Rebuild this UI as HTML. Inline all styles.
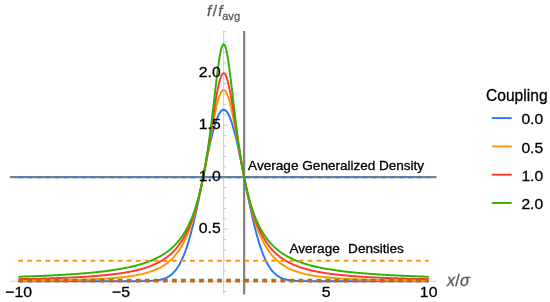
<!DOCTYPE html>
<html><head><meta charset="utf-8"><title>plot</title>
<style>html,body{margin:0;padding:0;background:#fff;}body{width:550px;height:302px;position:relative;overflow:hidden;}</style>
</head><body>
<svg width="550" height="302" viewBox="0 0 550 302" style="position:absolute;left:0;top:0">
<g stroke="#9a9a9a" stroke-width="0.5" fill="none">
<line x1="10" y1="281.2" x2="436.5" y2="281.2"/>
<line x1="223.65" y1="31" x2="223.65" y2="294.5"/>
<line x1="223.65" y1="291.60" x2="226.35" y2="291.60"/>
<line x1="223.65" y1="270.80" x2="226.35" y2="270.80"/>
<line x1="223.65" y1="260.40" x2="226.35" y2="260.40"/>
<line x1="223.65" y1="250.00" x2="226.35" y2="250.00"/>
<line x1="223.65" y1="239.60" x2="226.35" y2="239.60"/>
<line x1="223.65" y1="229.20" x2="228.15" y2="229.20"/>
<line x1="223.65" y1="218.80" x2="226.35" y2="218.80"/>
<line x1="223.65" y1="208.40" x2="226.35" y2="208.40"/>
<line x1="223.65" y1="198.00" x2="226.35" y2="198.00"/>
<line x1="223.65" y1="187.60" x2="226.35" y2="187.60"/>
<line x1="223.65" y1="177.20" x2="228.15" y2="177.20"/>
<line x1="223.65" y1="166.80" x2="226.35" y2="166.80"/>
<line x1="223.65" y1="156.40" x2="226.35" y2="156.40"/>
<line x1="223.65" y1="146.00" x2="226.35" y2="146.00"/>
<line x1="223.65" y1="135.60" x2="226.35" y2="135.60"/>
<line x1="223.65" y1="125.20" x2="228.15" y2="125.20"/>
<line x1="223.65" y1="114.80" x2="226.35" y2="114.80"/>
<line x1="223.65" y1="104.40" x2="226.35" y2="104.40"/>
<line x1="223.65" y1="94.00" x2="226.35" y2="94.00"/>
<line x1="223.65" y1="83.60" x2="226.35" y2="83.60"/>
<line x1="223.65" y1="73.20" x2="228.15" y2="73.20"/>
<line x1="223.65" y1="62.80" x2="226.35" y2="62.80"/>
<line x1="223.65" y1="52.40" x2="226.35" y2="52.40"/>
<line x1="223.65" y1="42.00" x2="226.35" y2="42.00"/>
<line x1="223.65" y1="31.60" x2="226.35" y2="31.60"/>
<line x1="18.65" y1="281.2" x2="18.65" y2="276.7"/>
<line x1="39.15" y1="281.2" x2="39.15" y2="278.5"/>
<line x1="59.65" y1="281.2" x2="59.65" y2="278.5"/>
<line x1="80.15" y1="281.2" x2="80.15" y2="278.5"/>
<line x1="100.65" y1="281.2" x2="100.65" y2="278.5"/>
<line x1="121.15" y1="281.2" x2="121.15" y2="276.7"/>
<line x1="141.65" y1="281.2" x2="141.65" y2="278.5"/>
<line x1="162.15" y1="281.2" x2="162.15" y2="278.5"/>
<line x1="182.65" y1="281.2" x2="182.65" y2="278.5"/>
<line x1="203.15" y1="281.2" x2="203.15" y2="278.5"/>
<line x1="244.15" y1="281.2" x2="244.15" y2="278.5"/>
<line x1="264.65" y1="281.2" x2="264.65" y2="278.5"/>
<line x1="285.15" y1="281.2" x2="285.15" y2="278.5"/>
<line x1="305.65" y1="281.2" x2="305.65" y2="278.5"/>
<line x1="326.15" y1="281.2" x2="326.15" y2="276.7"/>
<line x1="346.65" y1="281.2" x2="346.65" y2="278.5"/>
<line x1="367.15" y1="281.2" x2="367.15" y2="278.5"/>
<line x1="387.65" y1="281.2" x2="387.65" y2="278.5"/>
<line x1="408.15" y1="281.2" x2="408.15" y2="278.5"/>
<line x1="428.65" y1="281.2" x2="428.65" y2="276.7"/>
</g>
<line x1="10" y1="177.20" x2="436.5" y2="177.20" stroke="#808080" stroke-width="2.2"/>
<line x1="244.15" y1="31" x2="244.15" y2="294.5" stroke="#808080" stroke-width="2.2"/>
<polyline points="18.65,281.20 19.68,281.20 20.70,281.20 21.73,281.20 22.75,281.20 23.78,281.20 24.80,281.20 25.82,281.20 26.85,281.20 27.88,281.20 28.90,281.20 29.93,281.20 30.95,281.20 31.98,281.20 33.00,281.20 34.03,281.20 35.05,281.20 36.07,281.20 37.10,281.20 38.12,281.20 39.15,281.20 40.18,281.20 41.20,281.20 42.23,281.20 43.25,281.20 44.28,281.20 45.30,281.20 46.32,281.20 47.35,281.20 48.38,281.20 49.40,281.20 50.43,281.20 51.45,281.20 52.48,281.20 53.50,281.20 54.53,281.20 55.55,281.20 56.57,281.20 57.60,281.20 58.62,281.20 59.65,281.20 60.68,281.20 61.70,281.20 62.73,281.20 63.75,281.20 64.78,281.20 65.80,281.20 66.82,281.20 67.85,281.20 68.88,281.20 69.90,281.20 70.93,281.20 71.95,281.20 72.98,281.20 74.00,281.20 75.03,281.20 76.05,281.20 77.07,281.20 78.10,281.20 79.12,281.20 80.15,281.20 81.18,281.20 82.20,281.20 83.23,281.20 84.25,281.20 85.28,281.20 86.30,281.20 87.32,281.20 88.35,281.20 89.38,281.20 90.40,281.20 91.43,281.20 92.45,281.20 93.48,281.20 94.50,281.20 95.53,281.20 96.55,281.20 97.58,281.20 98.60,281.20 99.63,281.20 100.65,281.20 101.67,281.20 102.70,281.20 103.73,281.20 104.75,281.20 105.78,281.20 106.80,281.20 107.83,281.20 108.85,281.20 109.88,281.20 110.90,281.20 111.92,281.20 112.95,281.20 113.98,281.20 115.00,281.20 116.03,281.20 117.05,281.20 118.08,281.20 119.10,281.20 120.13,281.20 121.15,281.20 122.18,281.20 123.20,281.20 124.23,281.20 125.25,281.20 126.28,281.20 127.30,281.20 128.33,281.20 129.35,281.20 130.38,281.19 131.40,281.19 132.43,281.19 133.45,281.19 134.48,281.19 135.50,281.18 136.53,281.18 137.55,281.17 138.58,281.17 139.60,281.16 140.62,281.15 141.65,281.14 142.68,281.13 143.70,281.11 144.73,281.10 145.75,281.07 146.78,281.05 147.80,281.02 148.83,280.98 149.85,280.94 150.88,280.89 151.90,280.82 152.93,280.75 153.95,280.67 154.98,280.57 156.00,280.46 157.03,280.33 158.05,280.18 159.08,280.00 160.10,279.80 161.12,279.56 162.15,279.30 163.18,278.99 164.20,278.64 165.23,278.25 166.25,277.80 167.28,277.29 168.30,276.72 169.33,276.08 170.35,275.36 171.38,274.56 172.40,273.67 173.43,272.67 174.45,271.57 175.48,270.36 176.50,269.02 177.53,267.56 178.55,265.95 179.58,264.20 180.60,262.30 181.62,260.23 182.65,257.99 183.68,255.59 184.70,253.00 185.73,250.23 186.75,247.27 187.78,244.12 188.80,240.78 189.82,237.25 190.85,233.53 191.88,229.62 192.90,225.53 193.93,221.27 194.95,216.85 195.98,212.27 197.00,207.55 198.03,202.70 199.05,197.74 200.07,192.69 201.10,187.57 202.13,182.40 203.15,177.20 204.18,172.00 205.20,166.84 206.23,161.72 207.25,156.69 208.28,151.77 209.30,146.99 210.32,142.39 211.35,137.98 212.38,133.80 213.40,129.88 214.43,126.24 215.45,122.92 216.48,119.92 217.50,117.28 218.53,115.01 219.55,113.13 220.58,111.65 221.60,110.59 222.63,109.95 223.65,109.73 224.68,109.95 225.70,110.59 226.73,111.65 227.75,113.13 228.78,115.01 229.80,117.28 230.83,119.92 231.85,122.92 232.88,126.24 233.90,129.88 234.93,133.80 235.95,137.98 236.98,142.39 238.00,146.99 239.03,151.77 240.05,156.69 241.08,161.72 242.10,166.84 243.13,172.00 244.15,177.20 245.18,182.40 246.20,187.57 247.23,192.69 248.25,197.74 249.28,202.70 250.30,207.55 251.33,212.27 252.35,216.85 253.38,221.27 254.40,225.53 255.43,229.62 256.45,233.53 257.48,237.25 258.50,240.78 259.52,244.12 260.55,247.27 261.58,250.23 262.60,253.00 263.62,255.59 264.65,257.99 265.68,260.23 266.70,262.30 267.73,264.20 268.75,265.95 269.77,267.56 270.80,269.02 271.83,270.36 272.85,271.57 273.88,272.67 274.90,273.67 275.93,274.56 276.95,275.36 277.98,276.08 279.00,276.72 280.02,277.29 281.05,277.80 282.08,278.25 283.10,278.64 284.12,278.99 285.15,279.30 286.18,279.56 287.20,279.80 288.23,280.00 289.25,280.18 290.27,280.33 291.30,280.46 292.33,280.57 293.35,280.67 294.38,280.75 295.40,280.82 296.43,280.89 297.45,280.94 298.48,280.98 299.50,281.02 300.52,281.05 301.55,281.07 302.58,281.10 303.60,281.11 304.62,281.13 305.65,281.14 306.68,281.15 307.70,281.16 308.73,281.17 309.75,281.17 310.77,281.18 311.80,281.18 312.83,281.19 313.85,281.19 314.88,281.19 315.90,281.19 316.93,281.19 317.95,281.20 318.98,281.20 320.00,281.20 321.02,281.20 322.05,281.20 323.08,281.20 324.10,281.20 325.12,281.20 326.15,281.20 327.18,281.20 328.20,281.20 329.23,281.20 330.25,281.20 331.27,281.20 332.30,281.20 333.33,281.20 334.35,281.20 335.38,281.20 336.40,281.20 337.43,281.20 338.45,281.20 339.48,281.20 340.50,281.20 341.52,281.20 342.55,281.20 343.58,281.20 344.60,281.20 345.62,281.20 346.65,281.20 347.68,281.20 348.70,281.20 349.73,281.20 350.75,281.20 351.77,281.20 352.80,281.20 353.83,281.20 354.85,281.20 355.88,281.20 356.90,281.20 357.93,281.20 358.95,281.20 359.98,281.20 361.00,281.20 362.02,281.20 363.05,281.20 364.08,281.20 365.10,281.20 366.12,281.20 367.15,281.20 368.18,281.20 369.20,281.20 370.23,281.20 371.25,281.20 372.27,281.20 373.30,281.20 374.33,281.20 375.35,281.20 376.38,281.20 377.40,281.20 378.43,281.20 379.45,281.20 380.48,281.20 381.50,281.20 382.52,281.20 383.55,281.20 384.58,281.20 385.60,281.20 386.62,281.20 387.65,281.20 388.68,281.20 389.70,281.20 390.73,281.20 391.75,281.20 392.77,281.20 393.80,281.20 394.83,281.20 395.85,281.20 396.88,281.20 397.90,281.20 398.93,281.20 399.95,281.20 400.98,281.20 402.00,281.20 403.02,281.20 404.05,281.20 405.08,281.20 406.10,281.20 407.12,281.20 408.15,281.20 409.18,281.20 410.20,281.20 411.23,281.20 412.25,281.20 413.27,281.20 414.30,281.20 415.33,281.20 416.35,281.20 417.38,281.20 418.40,281.20 419.43,281.20 420.45,281.20 421.48,281.20 422.50,281.20 423.52,281.20 424.55,281.20 425.58,281.20 426.60,281.20 427.63,281.20 428.65,281.20" fill="none" stroke="#2f74f2" stroke-width="1.95" stroke-linejoin="round"/>
<polyline points="18.65,280.68 19.68,280.67 20.70,280.66 21.73,280.65 22.75,280.64 23.78,280.63 24.80,280.63 25.82,280.62 26.85,280.61 27.88,280.60 28.90,280.59 29.93,280.58 30.95,280.57 31.98,280.56 33.00,280.55 34.03,280.54 35.05,280.53 36.07,280.52 37.10,280.51 38.12,280.50 39.15,280.49 40.18,280.47 41.20,280.46 42.23,280.45 43.25,280.44 44.28,280.42 45.30,280.41 46.32,280.40 47.35,280.38 48.38,280.37 49.40,280.36 50.43,280.34 51.45,280.33 52.48,280.31 53.50,280.29 54.53,280.28 55.55,280.26 56.57,280.25 57.60,280.23 58.62,280.21 59.65,280.19 60.68,280.17 61.70,280.15 62.73,280.14 63.75,280.12 64.78,280.09 65.80,280.07 66.82,280.05 67.85,280.03 68.88,280.01 69.90,279.98 70.93,279.96 71.95,279.94 72.98,279.91 74.00,279.89 75.03,279.86 76.05,279.83 77.07,279.80 78.10,279.78 79.12,279.75 80.15,279.72 81.18,279.69 82.20,279.65 83.23,279.62 84.25,279.59 85.28,279.55 86.30,279.52 87.32,279.48 88.35,279.44 89.38,279.40 90.40,279.36 91.43,279.32 92.45,279.28 93.48,279.24 94.50,279.19 95.53,279.15 96.55,279.10 97.58,279.05 98.60,279.00 99.63,278.95 100.65,278.89 101.67,278.84 102.70,278.78 103.73,278.72 104.75,278.66 105.78,278.60 106.80,278.53 107.83,278.46 108.85,278.40 109.88,278.32 110.90,278.25 111.92,278.17 112.95,278.09 113.98,278.01 115.00,277.93 116.03,277.84 117.05,277.75 118.08,277.65 119.10,277.55 120.13,277.45 121.15,277.35 122.18,277.24 123.20,277.13 124.23,277.01 125.25,276.89 126.28,276.76 127.30,276.63 128.33,276.49 129.35,276.35 130.38,276.20 131.40,276.05 132.43,275.89 133.45,275.73 134.48,275.55 135.50,275.37 136.53,275.19 137.55,274.99 138.58,274.79 139.60,274.58 140.62,274.35 141.65,274.12 142.68,273.88 143.70,273.63 144.73,273.37 145.75,273.09 146.78,272.81 147.80,272.50 148.83,272.19 149.85,271.86 150.88,271.52 151.90,271.15 152.93,270.78 153.95,270.38 154.98,269.96 156.00,269.52 157.03,269.06 158.05,268.58 159.08,268.07 160.10,267.54 161.12,266.98 162.15,266.39 163.18,265.77 164.20,265.11 165.23,264.42 166.25,263.69 167.28,262.92 168.30,262.12 169.33,261.26 170.35,260.36 171.38,259.40 172.40,258.39 173.43,257.33 174.45,256.20 175.48,255.01 176.50,253.74 177.53,252.41 178.55,250.99 179.58,249.49 180.60,247.90 181.62,246.22 182.65,244.43 183.68,242.54 184.70,240.53 185.73,238.40 186.75,236.15 187.78,233.76 188.80,231.23 189.82,228.54 190.85,225.70 191.88,222.70 192.90,219.52 193.93,216.17 194.95,212.62 195.98,208.89 197.00,204.96 198.03,200.83 199.05,196.50 200.07,191.97 201.10,187.24 202.13,182.31 203.15,177.20 204.18,171.92 205.20,166.48 206.23,160.90 207.25,155.22 208.28,149.46 209.30,143.66 210.32,137.88 211.35,132.14 212.38,126.53 213.40,121.08 214.43,115.87 215.45,110.97 216.48,106.44 217.50,102.35 218.53,98.76 219.55,95.73 220.58,93.32 221.60,91.56 222.63,90.50 223.65,90.14 224.68,90.50 225.70,91.56 226.73,93.32 227.75,95.73 228.78,98.76 229.80,102.35 230.83,106.44 231.85,110.97 232.88,115.87 233.90,121.08 234.93,126.53 235.95,132.14 236.98,137.88 238.00,143.66 239.03,149.46 240.05,155.22 241.08,160.90 242.10,166.48 243.13,171.92 244.15,177.20 245.18,182.31 246.20,187.24 247.23,191.97 248.25,196.50 249.28,200.83 250.30,204.96 251.33,208.89 252.35,212.62 253.38,216.17 254.40,219.52 255.43,222.70 256.45,225.70 257.48,228.54 258.50,231.23 259.52,233.76 260.55,236.15 261.58,238.40 262.60,240.53 263.62,242.54 264.65,244.43 265.68,246.22 266.70,247.90 267.73,249.49 268.75,250.99 269.77,252.41 270.80,253.74 271.83,255.01 272.85,256.20 273.88,257.33 274.90,258.39 275.93,259.40 276.95,260.36 277.98,261.26 279.00,262.12 280.02,262.92 281.05,263.69 282.08,264.42 283.10,265.11 284.12,265.77 285.15,266.39 286.18,266.98 287.20,267.54 288.23,268.07 289.25,268.58 290.27,269.06 291.30,269.52 292.33,269.96 293.35,270.38 294.38,270.78 295.40,271.15 296.43,271.52 297.45,271.86 298.48,272.19 299.50,272.50 300.52,272.81 301.55,273.09 302.58,273.37 303.60,273.63 304.62,273.88 305.65,274.12 306.68,274.35 307.70,274.58 308.73,274.79 309.75,274.99 310.77,275.19 311.80,275.37 312.83,275.55 313.85,275.73 314.88,275.89 315.90,276.05 316.93,276.20 317.95,276.35 318.98,276.49 320.00,276.63 321.02,276.76 322.05,276.89 323.08,277.01 324.10,277.13 325.12,277.24 326.15,277.35 327.18,277.45 328.20,277.55 329.23,277.65 330.25,277.75 331.27,277.84 332.30,277.93 333.33,278.01 334.35,278.09 335.38,278.17 336.40,278.25 337.43,278.32 338.45,278.40 339.48,278.46 340.50,278.53 341.52,278.60 342.55,278.66 343.58,278.72 344.60,278.78 345.62,278.84 346.65,278.89 347.68,278.95 348.70,279.00 349.73,279.05 350.75,279.10 351.77,279.15 352.80,279.19 353.83,279.24 354.85,279.28 355.88,279.32 356.90,279.36 357.93,279.40 358.95,279.44 359.98,279.48 361.00,279.52 362.02,279.55 363.05,279.59 364.08,279.62 365.10,279.65 366.12,279.69 367.15,279.72 368.18,279.75 369.20,279.78 370.23,279.80 371.25,279.83 372.27,279.86 373.30,279.89 374.33,279.91 375.35,279.94 376.38,279.96 377.40,279.98 378.43,280.01 379.45,280.03 380.48,280.05 381.50,280.07 382.52,280.09 383.55,280.12 384.58,280.14 385.60,280.15 386.62,280.17 387.65,280.19 388.68,280.21 389.70,280.23 390.73,280.25 391.75,280.26 392.77,280.28 393.80,280.29 394.83,280.31 395.85,280.33 396.88,280.34 397.90,280.36 398.93,280.37 399.95,280.38 400.98,280.40 402.00,280.41 403.02,280.42 404.05,280.44 405.08,280.45 406.10,280.46 407.12,280.47 408.15,280.49 409.18,280.50 410.20,280.51 411.23,280.52 412.25,280.53 413.27,280.54 414.30,280.55 415.33,280.56 416.35,280.57 417.38,280.58 418.40,280.59 419.43,280.60 420.45,280.61 421.48,280.62 422.50,280.63 423.52,280.63 424.55,280.64 425.58,280.65 426.60,280.66 427.63,280.67 428.65,280.68" fill="none" stroke="#ff9500" stroke-width="1.95" stroke-linejoin="round"/>
<polyline points="18.65,279.14 19.68,279.12 20.70,279.10 21.73,279.08 22.75,279.06 23.78,279.03 24.80,279.01 25.82,278.99 26.85,278.97 27.88,278.94 28.90,278.92 29.93,278.90 30.95,278.87 31.98,278.85 33.00,278.82 34.03,278.80 35.05,278.77 36.07,278.74 37.10,278.72 38.12,278.69 39.15,278.66 40.18,278.64 41.20,278.61 42.23,278.58 43.25,278.55 44.28,278.52 45.30,278.49 46.32,278.46 47.35,278.43 48.38,278.39 49.40,278.36 50.43,278.33 51.45,278.29 52.48,278.26 53.50,278.22 54.53,278.19 55.55,278.15 56.57,278.11 57.60,278.08 58.62,278.04 59.65,278.00 60.68,277.96 61.70,277.92 62.73,277.88 63.75,277.84 64.78,277.79 65.80,277.75 66.82,277.71 67.85,277.66 68.88,277.61 69.90,277.57 70.93,277.52 71.95,277.47 72.98,277.42 74.00,277.37 75.03,277.32 76.05,277.26 77.07,277.21 78.10,277.15 79.12,277.10 80.15,277.04 81.18,276.98 82.20,276.92 83.23,276.86 84.25,276.80 85.28,276.73 86.30,276.67 87.32,276.60 88.35,276.53 89.38,276.46 90.40,276.39 91.43,276.32 92.45,276.24 93.48,276.17 94.50,276.09 95.53,276.01 96.55,275.93 97.58,275.84 98.60,275.76 99.63,275.67 100.65,275.58 101.67,275.49 102.70,275.39 103.73,275.29 104.75,275.20 105.78,275.09 106.80,274.99 107.83,274.88 108.85,274.77 109.88,274.66 110.90,274.54 111.92,274.43 112.95,274.30 113.98,274.18 115.00,274.05 116.03,273.92 117.05,273.78 118.08,273.64 119.10,273.50 120.13,273.35 121.15,273.20 122.18,273.04 123.20,272.88 124.23,272.72 125.25,272.55 126.28,272.37 127.30,272.19 128.33,272.01 129.35,271.81 130.38,271.62 131.40,271.41 132.43,271.20 133.45,270.98 134.48,270.76 135.50,270.53 136.53,270.29 137.55,270.04 138.58,269.79 139.60,269.52 140.62,269.25 141.65,268.96 142.68,268.67 143.70,268.37 144.73,268.05 145.75,267.73 146.78,267.39 147.80,267.04 148.83,266.68 149.85,266.30 150.88,265.91 151.90,265.50 152.93,265.08 153.95,264.64 154.98,264.18 156.00,263.71 157.03,263.21 158.05,262.69 159.08,262.16 160.10,261.60 161.12,261.01 162.15,260.40 163.18,259.76 164.20,259.10 165.23,258.40 166.25,257.67 167.28,256.91 168.30,256.11 169.33,255.27 170.35,254.40 171.38,253.48 172.40,252.51 173.43,251.50 174.45,250.43 175.48,249.31 176.50,248.13 177.53,246.89 178.55,245.58 179.58,244.21 180.60,242.75 181.62,241.22 182.65,239.60 183.68,237.89 184.70,236.08 185.73,234.17 186.75,232.14 187.78,230.00 188.80,227.73 189.82,225.32 190.85,222.77 191.88,220.07 192.90,217.20 193.93,214.16 194.95,210.93 195.98,207.51 197.00,203.88 198.03,200.03 199.05,195.95 200.07,191.64 201.10,187.08 202.13,182.27 203.15,177.20 204.18,171.87 205.20,166.28 206.23,160.45 207.25,154.37 208.28,148.08 209.30,141.60 210.32,134.98 211.35,128.26 212.38,121.51 213.40,114.80 214.43,108.23 215.45,101.89 216.48,95.90 217.50,90.37 218.53,85.44 219.55,81.20 220.58,77.78 221.60,75.26 222.63,73.72 223.65,73.20 224.68,73.72 225.70,75.26 226.73,77.78 227.75,81.20 228.78,85.44 229.80,90.37 230.83,95.90 231.85,101.89 232.88,108.23 233.90,114.80 234.93,121.51 235.95,128.26 236.98,134.98 238.00,141.60 239.03,148.08 240.05,154.37 241.08,160.45 242.10,166.28 243.13,171.87 244.15,177.20 245.18,182.27 246.20,187.08 247.23,191.64 248.25,195.95 249.28,200.03 250.30,203.88 251.33,207.51 252.35,210.93 253.38,214.16 254.40,217.20 255.43,220.07 256.45,222.77 257.48,225.32 258.50,227.73 259.52,230.00 260.55,232.14 261.58,234.17 262.60,236.08 263.62,237.89 264.65,239.60 265.68,241.22 266.70,242.75 267.73,244.21 268.75,245.58 269.77,246.89 270.80,248.13 271.83,249.31 272.85,250.43 273.88,251.50 274.90,252.51 275.93,253.48 276.95,254.40 277.98,255.27 279.00,256.11 280.02,256.91 281.05,257.67 282.08,258.40 283.10,259.10 284.12,259.76 285.15,260.40 286.18,261.01 287.20,261.60 288.23,262.16 289.25,262.69 290.27,263.21 291.30,263.71 292.33,264.18 293.35,264.64 294.38,265.08 295.40,265.50 296.43,265.91 297.45,266.30 298.48,266.68 299.50,267.04 300.52,267.39 301.55,267.73 302.58,268.05 303.60,268.37 304.62,268.67 305.65,268.96 306.68,269.25 307.70,269.52 308.73,269.79 309.75,270.04 310.77,270.29 311.80,270.53 312.83,270.76 313.85,270.98 314.88,271.20 315.90,271.41 316.93,271.62 317.95,271.81 318.98,272.01 320.00,272.19 321.02,272.37 322.05,272.55 323.08,272.72 324.10,272.88 325.12,273.04 326.15,273.20 327.18,273.35 328.20,273.50 329.23,273.64 330.25,273.78 331.27,273.92 332.30,274.05 333.33,274.18 334.35,274.30 335.38,274.43 336.40,274.54 337.43,274.66 338.45,274.77 339.48,274.88 340.50,274.99 341.52,275.09 342.55,275.20 343.58,275.29 344.60,275.39 345.62,275.49 346.65,275.58 347.68,275.67 348.70,275.76 349.73,275.84 350.75,275.93 351.77,276.01 352.80,276.09 353.83,276.17 354.85,276.24 355.88,276.32 356.90,276.39 357.93,276.46 358.95,276.53 359.98,276.60 361.00,276.67 362.02,276.73 363.05,276.80 364.08,276.86 365.10,276.92 366.12,276.98 367.15,277.04 368.18,277.10 369.20,277.15 370.23,277.21 371.25,277.26 372.27,277.32 373.30,277.37 374.33,277.42 375.35,277.47 376.38,277.52 377.40,277.57 378.43,277.61 379.45,277.66 380.48,277.71 381.50,277.75 382.52,277.79 383.55,277.84 384.58,277.88 385.60,277.92 386.62,277.96 387.65,278.00 388.68,278.04 389.70,278.08 390.73,278.11 391.75,278.15 392.77,278.19 393.80,278.22 394.83,278.26 395.85,278.29 396.88,278.33 397.90,278.36 398.93,278.39 399.95,278.43 400.98,278.46 402.00,278.49 403.02,278.52 404.05,278.55 405.08,278.58 406.10,278.61 407.12,278.64 408.15,278.66 409.18,278.69 410.20,278.72 411.23,278.74 412.25,278.77 413.27,278.80 414.30,278.82 415.33,278.85 416.35,278.87 417.38,278.90 418.40,278.92 419.43,278.94 420.45,278.97 421.48,278.99 422.50,279.01 423.52,279.03 424.55,279.06 425.58,279.08 426.60,279.10 427.63,279.12 428.65,279.14" fill="none" stroke="#ff3b30" stroke-width="1.95" stroke-linejoin="round"/>
<polyline points="18.65,276.76 19.68,276.73 20.70,276.69 21.73,276.66 22.75,276.62 23.78,276.59 24.80,276.55 25.82,276.52 26.85,276.48 27.88,276.44 28.90,276.41 29.93,276.37 30.95,276.33 31.98,276.29 33.00,276.25 34.03,276.21 35.05,276.17 36.07,276.13 37.10,276.09 38.12,276.05 39.15,276.00 40.18,275.96 41.20,275.92 42.23,275.87 43.25,275.83 44.28,275.78 45.30,275.73 46.32,275.69 47.35,275.64 48.38,275.59 49.40,275.54 50.43,275.49 51.45,275.44 52.48,275.39 53.50,275.34 54.53,275.28 55.55,275.23 56.57,275.18 57.60,275.12 58.62,275.06 59.65,275.01 60.68,274.95 61.70,274.89 62.73,274.83 63.75,274.77 64.78,274.71 65.80,274.64 66.82,274.58 67.85,274.52 68.88,274.45 69.90,274.38 70.93,274.31 71.95,274.25 72.98,274.17 74.00,274.10 75.03,274.03 76.05,273.96 77.07,273.88 78.10,273.80 79.12,273.73 80.15,273.65 81.18,273.57 82.20,273.48 83.23,273.40 84.25,273.31 85.28,273.23 86.30,273.14 87.32,273.05 88.35,272.96 89.38,272.86 90.40,272.77 91.43,272.67 92.45,272.57 93.48,272.47 94.50,272.37 95.53,272.26 96.55,272.16 97.58,272.05 98.60,271.94 99.63,271.82 100.65,271.71 101.67,271.59 102.70,271.47 103.73,271.35 104.75,271.22 105.78,271.09 106.80,270.96 107.83,270.83 108.85,270.69 109.88,270.55 110.90,270.41 111.92,270.26 112.95,270.11 113.98,269.96 115.00,269.80 116.03,269.64 117.05,269.47 118.08,269.31 119.10,269.13 120.13,268.96 121.15,268.78 122.18,268.59 123.20,268.40 124.23,268.21 125.25,268.01 126.28,267.81 127.30,267.60 128.33,267.38 129.35,267.16 130.38,266.93 131.40,266.70 132.43,266.46 133.45,266.22 134.48,265.96 135.50,265.70 136.53,265.44 137.55,265.16 138.58,264.88 139.60,264.59 140.62,264.29 141.65,263.98 142.68,263.66 143.70,263.34 144.73,263.00 145.75,262.65 146.78,262.29 147.80,261.92 148.83,261.54 149.85,261.14 150.88,260.73 151.90,260.31 152.93,259.87 153.95,259.42 154.98,258.95 156.00,258.46 157.03,257.96 158.05,257.44 159.08,256.90 160.10,256.34 161.12,255.76 162.15,255.15 163.18,254.52 164.20,253.87 165.23,253.19 166.25,252.48 167.28,251.74 168.30,250.97 169.33,250.17 170.35,249.33 171.38,248.45 172.40,247.54 173.43,246.58 174.45,245.58 175.48,244.53 176.50,243.43 177.53,242.28 178.55,241.07 179.58,239.80 180.60,238.46 181.62,237.06 182.65,235.58 183.68,234.01 184.70,232.37 185.73,230.63 186.75,228.79 187.78,226.84 188.80,224.78 189.82,222.59 190.85,220.27 191.88,217.81 192.90,215.19 193.93,212.40 194.95,209.44 195.98,206.27 197.00,202.90 198.03,199.30 199.05,195.45 200.07,191.33 201.10,186.93 202.13,182.23 203.15,177.20 204.18,171.82 205.20,166.08 206.23,159.95 207.25,153.43 208.28,146.50 209.30,139.17 210.32,131.45 211.35,123.36 212.38,114.95 213.40,106.29 214.43,97.50 215.45,88.69 216.48,80.06 217.50,71.81 218.53,64.17 219.55,57.43 220.58,51.83 221.60,47.63 222.63,45.02 223.65,44.13 224.68,45.02 225.70,47.63 226.73,51.83 227.75,57.43 228.78,64.17 229.80,71.81 230.83,80.06 231.85,88.69 232.88,97.50 233.90,106.29 234.93,114.95 235.95,123.36 236.98,131.45 238.00,139.17 239.03,146.50 240.05,153.43 241.08,159.95 242.10,166.08 243.13,171.82 244.15,177.20 245.18,182.23 246.20,186.93 247.23,191.33 248.25,195.45 249.28,199.30 250.30,202.90 251.33,206.27 252.35,209.44 253.38,212.40 254.40,215.19 255.43,217.81 256.45,220.27 257.48,222.59 258.50,224.78 259.52,226.84 260.55,228.79 261.58,230.63 262.60,232.37 263.62,234.01 264.65,235.58 265.68,237.06 266.70,238.46 267.73,239.80 268.75,241.07 269.77,242.28 270.80,243.43 271.83,244.53 272.85,245.58 273.88,246.58 274.90,247.54 275.93,248.45 276.95,249.33 277.98,250.17 279.00,250.97 280.02,251.74 281.05,252.48 282.08,253.19 283.10,253.87 284.12,254.52 285.15,255.15 286.18,255.76 287.20,256.34 288.23,256.90 289.25,257.44 290.27,257.96 291.30,258.46 292.33,258.95 293.35,259.42 294.38,259.87 295.40,260.31 296.43,260.73 297.45,261.14 298.48,261.54 299.50,261.92 300.52,262.29 301.55,262.65 302.58,263.00 303.60,263.34 304.62,263.66 305.65,263.98 306.68,264.29 307.70,264.59 308.73,264.88 309.75,265.16 310.77,265.44 311.80,265.70 312.83,265.96 313.85,266.22 314.88,266.46 315.90,266.70 316.93,266.93 317.95,267.16 318.98,267.38 320.00,267.60 321.02,267.81 322.05,268.01 323.08,268.21 324.10,268.40 325.12,268.59 326.15,268.78 327.18,268.96 328.20,269.13 329.23,269.31 330.25,269.47 331.27,269.64 332.30,269.80 333.33,269.96 334.35,270.11 335.38,270.26 336.40,270.41 337.43,270.55 338.45,270.69 339.48,270.83 340.50,270.96 341.52,271.09 342.55,271.22 343.58,271.35 344.60,271.47 345.62,271.59 346.65,271.71 347.68,271.82 348.70,271.94 349.73,272.05 350.75,272.16 351.77,272.26 352.80,272.37 353.83,272.47 354.85,272.57 355.88,272.67 356.90,272.77 357.93,272.86 358.95,272.96 359.98,273.05 361.00,273.14 362.02,273.23 363.05,273.31 364.08,273.40 365.10,273.48 366.12,273.57 367.15,273.65 368.18,273.73 369.20,273.80 370.23,273.88 371.25,273.96 372.27,274.03 373.30,274.10 374.33,274.17 375.35,274.25 376.38,274.31 377.40,274.38 378.43,274.45 379.45,274.52 380.48,274.58 381.50,274.64 382.52,274.71 383.55,274.77 384.58,274.83 385.60,274.89 386.62,274.95 387.65,275.01 388.68,275.06 389.70,275.12 390.73,275.18 391.75,275.23 392.77,275.28 393.80,275.34 394.83,275.39 395.85,275.44 396.88,275.49 397.90,275.54 398.93,275.59 399.95,275.64 400.98,275.69 402.00,275.73 403.02,275.78 404.05,275.83 405.08,275.87 406.10,275.92 407.12,275.96 408.15,276.00 409.18,276.05 410.20,276.09 411.23,276.13 412.25,276.17 413.27,276.21 414.30,276.25 415.33,276.29 416.35,276.33 417.38,276.37 418.40,276.41 419.43,276.44 420.45,276.48 421.48,276.52 422.50,276.55 423.52,276.59 424.55,276.62 425.58,276.66 426.60,276.69 427.63,276.73 428.65,276.76" fill="none" stroke="#34b000" stroke-width="1.95" stroke-linejoin="round"/>
<line x1="18.5" y1="177.20" x2="428.6" y2="177.20" stroke="#3680e4" stroke-width="2.1" stroke-dasharray="4.6 4.46"/>
<line x1="18.3" y1="260.71" x2="428.6" y2="260.71" stroke="#ff9500" stroke-width="2.1" stroke-dasharray="4.7 4.34"/>
<line x1="18.3" y1="281.20" x2="428.6" y2="281.20" stroke="#f0501e" stroke-width="2.6" stroke-dasharray="4.7 4.34"/>
<line x1="18.3" y1="279.43" x2="428.6" y2="279.43" stroke="#34b000" stroke-width="1.6" stroke-dasharray="4.7 4.34"/>
<line x1="491.8" y1="118.1" x2="511.7" y2="118.1" stroke="#2f74f2" stroke-width="1.9"/>
<line x1="491.8" y1="146.4" x2="511.7" y2="146.4" stroke="#ff9500" stroke-width="1.9"/>
<line x1="491.8" y1="174.7" x2="511.7" y2="174.7" stroke="#ff3b30" stroke-width="1.9"/>
<line x1="491.8" y1="203.0" x2="511.7" y2="203.0" stroke="#34b000" stroke-width="1.9"/>
<text transform="translate(220.80,233.10) scale(1.06,1)" font-size="14.9" text-anchor="end" fill="#000" stroke="#000" stroke-width="0.3" font-family="Liberation Sans, Arial, Helvetica, sans-serif" >0.5</text>
<text transform="translate(220.80,181.10) scale(1.06,1)" font-size="14.9" text-anchor="end" fill="#000" stroke="#000" stroke-width="0.3" font-family="Liberation Sans, Arial, Helvetica, sans-serif" >1.0</text>
<text transform="translate(220.80,129.10) scale(1.06,1)" font-size="14.9" text-anchor="end" fill="#000" stroke="#000" stroke-width="0.3" font-family="Liberation Sans, Arial, Helvetica, sans-serif" >1.5</text>
<text transform="translate(220.80,77.10) scale(1.06,1)" font-size="14.9" text-anchor="end" fill="#000" stroke="#000" stroke-width="0.3" font-family="Liberation Sans, Arial, Helvetica, sans-serif" >2.0</text>
<text transform="translate(18.55,296.80) scale(1.06,1)" font-size="14.9" text-anchor="middle" fill="#000" stroke="#000" stroke-width="0.3" font-family="Liberation Sans, Arial, Helvetica, sans-serif" >−10</text>
<text transform="translate(121.05,296.80) scale(1.06,1)" font-size="14.9" text-anchor="middle" fill="#000" stroke="#000" stroke-width="0.3" font-family="Liberation Sans, Arial, Helvetica, sans-serif" >−5</text>
<text transform="translate(326.15,296.80) scale(1.06,1)" font-size="14.9" text-anchor="middle" fill="#000" stroke="#000" stroke-width="0.3" font-family="Liberation Sans, Arial, Helvetica, sans-serif" >5</text>
<text transform="translate(428.65,296.80) scale(1.06,1)" font-size="14.9" text-anchor="middle" fill="#000" stroke="#000" stroke-width="0.3" font-family="Liberation Sans, Arial, Helvetica, sans-serif" >10</text>
<text transform="translate(248.10,170.00) scale(1.022,1)" font-size="13.3" text-anchor="start" fill="#000" stroke="#000" stroke-width="0.3" font-family="Liberation Sans, Arial, Helvetica, sans-serif" >Average</text>
<text transform="translate(302.30,170.00) scale(1.02,1)" font-size="13.3" text-anchor="start" fill="#000" stroke="#000" stroke-width="0.3" font-family="Liberation Sans, Arial, Helvetica, sans-serif" >Generalized</text>
<text transform="translate(378.90,170.00) scale(1.02,1)" font-size="13.3" text-anchor="start" fill="#000" stroke="#000" stroke-width="0.3" font-family="Liberation Sans, Arial, Helvetica, sans-serif" >Density</text>
<text transform="translate(289.40,253.20) scale(1.022,1)" font-size="13.3" text-anchor="start" fill="#000" stroke="#000" stroke-width="0.3" font-family="Liberation Sans, Arial, Helvetica, sans-serif" >Average</text>
<text transform="translate(348.10,253.20) scale(1.02,1)" font-size="13.3" text-anchor="start" fill="#000" stroke="#000" stroke-width="0.3" font-family="Liberation Sans, Arial, Helvetica, sans-serif" >Densities</text>
<text transform="translate(486.00,100.80) scale(1.0,1)" font-size="15.6" text-anchor="start" fill="#000" stroke="#000" stroke-width="0.3" font-family="Liberation Sans, Arial, Helvetica, sans-serif" >Coupling</text>
<text transform="translate(521.40,124.40) scale(1.045,1)" font-size="15.0" text-anchor="start" fill="#000" stroke="#000" stroke-width="0.3" font-family="Liberation Sans, Arial, Helvetica, sans-serif" >0.0</text>
<text transform="translate(521.40,152.70) scale(1.045,1)" font-size="15.0" text-anchor="start" fill="#000" stroke="#000" stroke-width="0.3" font-family="Liberation Sans, Arial, Helvetica, sans-serif" >0.5</text>
<text transform="translate(521.40,181.00) scale(1.045,1)" font-size="15.0" text-anchor="start" fill="#000" stroke="#000" stroke-width="0.3" font-family="Liberation Sans, Arial, Helvetica, sans-serif" >1.0</text>
<text transform="translate(521.40,209.30) scale(1.045,1)" font-size="15.0" text-anchor="start" fill="#000" stroke="#000" stroke-width="0.3" font-family="Liberation Sans, Arial, Helvetica, sans-serif" >2.0</text>
<text transform="translate(206.90,15.60) scale(1.0,1)" font-size="15.4" text-anchor="start" fill="#5a5a5a" stroke="#5a5a5a" stroke-width="0.3" font-family="Liberation Sans, Arial, Helvetica, sans-serif" font-style="italic">f</text>
<text transform="translate(212.70,15.60) scale(1.0,1)" font-size="15.4" text-anchor="start" fill="#5a5a5a" stroke="#5a5a5a" stroke-width="0.3" font-family="Liberation Sans, Arial, Helvetica, sans-serif" >/</text>
<text transform="translate(218.30,15.60) scale(1.0,1)" font-size="15.4" text-anchor="start" fill="#5a5a5a" stroke="#5a5a5a" stroke-width="0.3" font-family="Liberation Sans, Arial, Helvetica, sans-serif" font-style="italic">f</text>
<text transform="translate(222.20,19.50) scale(1.0,1)" font-size="11.1" text-anchor="start" fill="#5a5a5a" stroke="#5a5a5a" stroke-width="0.3" font-family="Liberation Sans, Arial, Helvetica, sans-serif" >avg</text>
<text transform="translate(447.00,285.80) scale(1.0,1)" font-size="16.0" text-anchor="start" fill="#5a5a5a" stroke="#5a5a5a" stroke-width="0.3" font-family="Liberation Sans, Arial, Helvetica, sans-serif" font-style="italic">x</text>
<text transform="translate(455.30,285.80) scale(1.0,1)" font-size="16.0" text-anchor="start" fill="#5a5a5a" stroke="#5a5a5a" stroke-width="0.3" font-family="Liberation Sans, Arial, Helvetica, sans-serif" >/</text>
<text transform="translate(460.10,285.80) scale(1.0,1)" font-size="16.0" text-anchor="start" fill="#5a5a5a" stroke="#5a5a5a" stroke-width="0.3" font-family="Liberation Sans, Arial, Helvetica, sans-serif" font-style="italic">σ</text>
</svg>
</body></html>
